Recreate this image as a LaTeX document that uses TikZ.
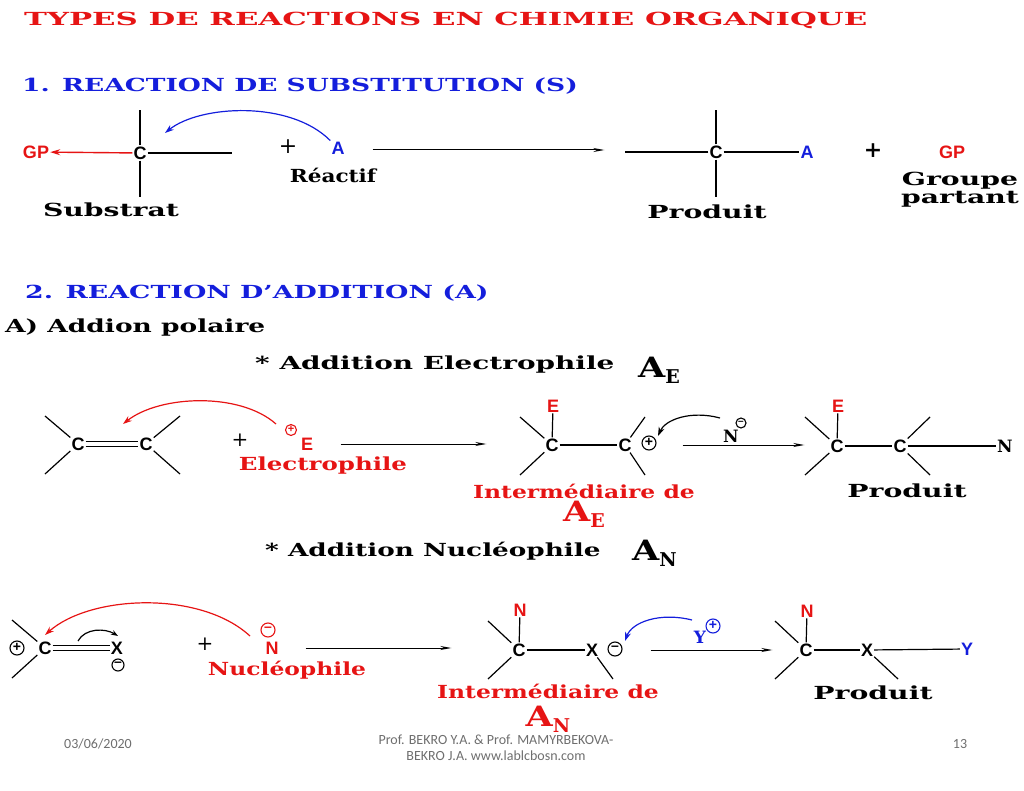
\documentclass[tikz,border=0pt]{standalone}
\usepackage{fontspec}
\setmainfont{DejaVu Serif}
\setsansfont{Liberation Sans}
\newfontfamily\footfont{Carlito}
\usetikzlibrary{positioning,arrows.meta}
\definecolor{rred}{RGB}{230,20,20}
\definecolor{bblue}{RGB}{20,30,220}
\definecolor{ftgray}{RGB}{110,110,110}
\newcommand{\widen}[2][1.55]{\scalebox{#1}[1]{#2}}
\tikzset{
  atom/.style={font=\sffamily\bfseries\fontsize{18}{18}\selectfont, inner sep=1pt},
  lab/.style={font=\bfseries\fontsize{18}{20}\selectfont, inner sep=0pt},
  head/.style={font=\bfseries\fontsize{18}{20}\selectfont, inner sep=0pt, anchor=west},
  bond/.style={line width=1.2pt},
  rx/.style={line width=1pt, -{Stealth[length=11pt,width=4pt]}},
  push/.style={line width=1.2pt, -{Stealth[length=9pt,width=6pt]}},
  chg/.style={circle, draw, line width=1.1pt, minimum size=14pt, inner sep=0pt,
    font=\sffamily\bfseries\fontsize{14}{14}\selectfont},
  foot/.style={font=\footfont\fontsize{14}{16}\selectfont, text=ftgray, align=center},
}
\newcommand{\pl}{\raisebox{0.5pt}{+}}
\newcommand{\mi}{\raisebox{0.5pt}{--}}
\begin{document}
\begin{tikzpicture}[x=1pt,y=-1pt]
\useasboundingbox (0,0) rectangle (1024,791);
% titles
\node[head,text=rred] (title) at (24,20) {\widen[1.71]{TYPES DE REACTIONS EN CHIMIE ORGANIQUE}};
\node[head,text=bblue] (sec1) at (22,86) {\widen[1.47]{1. REACTION DE SUBSTITUTION (S)}};
\node[head,text=bblue] (sec2) at (25,293) {\widen[1.49]{2. REACTION D'ADDITION (A)}};
\node[head] (polar) at (5,328) {\widen[1.47]{A) Addion polaire}};
\node[head] (ae-t) at (255,365) {\widen[1.55]{* Addition Electrophile}};
\node[font=\bfseries\fontsize{28}{28}\selectfont,anchor=west,inner sep=0pt] (ae-s) at (638,370) {\widen[1.25]{A}\raisebox{-6pt}{\fontsize{19}{19}\selectfont E}};
\node[head] (an-t) at (265,551) {\widen[1.46]{* Addition Nucléophile}};
\node[font=\bfseries\fontsize{28}{28}\selectfont,anchor=west,inner sep=0pt] (an-s) at (632,553) {\widen[1.25]{A}\raisebox{-6pt}{\fontsize{19}{19}\selectfont N}};

% 1. substitution
\node[atom] (sc) at (140,153) {C};
\node[atom,text=rred] (sgp) at (36,152) {GP};
\draw[bond] (sc) -- ++(0,-43);
\draw[bond] (sc) -- ++(0,44);
\draw[bond] (sc) -- ++(92,0);
\draw[rred,line width=1.4pt,-{Stealth[length=10pt,width=6pt]}] (sc) -- (sgp);
\node[lab] (subst) at (111,210) {\widen[1.57]{Substrat}};
\node[font=\fontsize{22}{22}\selectfont] (plus1) at (288,147) {+};
\node[atom,text=bblue] (sa) at (338,148) {A};
\node[lab] (reac) at (333,175) {\widen[1.2]{Réactif}};
\draw[push,bblue] (sa.north west) .. controls (290,100) and (200,105) .. (165,133);
\node[inner sep=0] (r1a) at (372,150) {};
\node[inner sep=0] (r1b) at (605,150) {};
\draw[rx] (r1a) -- (r1b);
\node[atom] (pc) at (716,152) {C};
\node[atom,text=bblue] (pa) at (807,152) {A};
\draw[bond] (pc) -- ++(-91,0);
\draw[bond] (pc) -- (pa);
\draw[bond] (pc) -- ++(0,-42);
\draw[bond] (pc) -- ++(0,45);
\node[lab] (prod1) at (707,212) {\widen[1.57]{Produit}};
\node[font=\bfseries\fontsize{22}{22}\selectfont] (plus2) at (873,151) {+};
\node[atom,text=rred] (pgp) at (952,152) {GP};
\node[lab,align=center] (gp-t) at (960,190) {\widen[1.57]{Groupe}\\[-2pt]\widen[1.57]{partant}};

% AE
\node[atom] (e1) at (78,444) {C};
\node[atom] (e2) at (146,444) {C};
\draw[bond] ([yshift=-2.5]e1.east) -- ([yshift=-2.5]e2.west);
\draw[bond] ([yshift=2.5]e1.east) -- ([yshift=2.5]e2.west);
\draw[bond] (e1) -- (45,416);
\draw[bond] (e1) -- (45,474);
\draw[bond] (e2) -- (180,416);
\draw[bond] (e2) -- (180,474);
\node[font=\fontsize{20}{20}\selectfont] (plus3) at (240,440) {+};
\node[chg,draw=rred,text=rred,minimum size=11pt,font=\sffamily\bfseries\fontsize{11}{11}\selectfont] (eplus) at (291,430) {\pl};
\node[atom,text=rred] (ee) at (307,444) {E};
\node[lab,text=rred] (elec) at (323,466) {\widen[1.36]{Electrophile}};
\draw[push,rred] (276,424) .. controls (240,392) and (160,395) .. (123,424);
\node[inner sep=0] (r2a) at (340,444) {};
\node[inner sep=0] (r2b) at (487,444) {};
\draw[rx] (r2a) -- (r2b);
% intermediate AE
\node[atom] (i1) at (552,445) {C};
\node[atom] (i2) at (625,445) {C};
\node[atom,text=rred] (ie) at (553,406) {E};
\node[chg] (iplus) at (649,443) {\pl};
\draw[bond] (i1) -- (i2);
\draw[bond] (i1) -- (ie);
\draw[bond] (i1) -- (520,417);
\draw[bond] (i1) -- (520,475);
\draw[bond] (i2) -- (645,417);
\draw[bond] (i2) -- (645,475);
\node[font=\bfseries\fontsize{17}{17}\selectfont,inner sep=0] (inn) at (731,436) {N};
\node[chg,minimum size=10pt,font=\sffamily\bfseries\fontsize{10}{10}\selectfont] (inm) at (741,423) {\mi};
\draw[push] (720,418) .. controls (690,410) and (665,420) .. (658,436);
\node[inner sep=0] (r3a) at (682,445) {};
\node[inner sep=0] (r3b) at (805,445) {};
\draw[rx] (r3a) -- (r3b);
\node[lab,text=rred] (int-ae) at (584,491) {\widen[1.3]{Intermédiaire de}};
\node[font=\bfseries\fontsize{28}{28}\selectfont,text=rred,inner sep=0] (int-aes) at (584,514) {\widen[1.25]{A}\raisebox{-6pt}{\fontsize{19}{19}\selectfont E}};
% product AE
\node[atom] (p1) at (837,446) {C};
\node[atom] (p2) at (900,446) {C};
\node[atom,text=rred] (pe) at (838,406) {E};
\node[font=\bfseries\fontsize{17}{17}\selectfont,inner sep=1pt] (pn) at (1005,446) {N};
\draw[bond] (p1) -- (p2);
\draw[bond] (p1) -- (pe);
\draw[bond] (p2) -- (pn);
\draw[bond] (p1) -- (805,417);
\draw[bond] (p1) -- (805,475);
\draw[bond] (p2) -- (930,417);
\draw[bond] (p2) -- (930,475);
\node[lab] (prod2) at (907,491) {\widen[1.57]{Produit}};

% AN
\node[chg] (nplus) at (17,648) {\pl};
\node[atom] (n1) at (45,648) {C};
\node[atom] (nx) at (117,648) {X};
\node[chg,minimum size=12pt] (nxm) at (118,665) {\mi};
\draw[bond] ([yshift=-2.5]n1.east) -- ([yshift=-2.5]nx.west);
\draw[bond] ([yshift=2.5]n1.east) -- ([yshift=2.5]nx.west);
\draw[bond] (n1) -- (12,620);
\draw[bond] (n1) -- (12,678);
\draw[line width=1.2pt,-{Stealth[length=7pt,width=5pt]}] (78,641) .. controls (85,628) and (105,628) .. (118,636);
\node[font=\fontsize{20}{20}\selectfont] (plus4) at (205,644) {+};
\node[chg,draw=rred,text=rred] (nm) at (268,630) {\mi};
\node[atom,text=rred] (nn) at (272,648) {N};
\node[lab,text=rred] (nuc) at (287,670) {\widen[1.3]{Nucléophile}};
\draw[push,rred] (250,636) .. controls (200,590) and (90,595) .. (45,635);
\node[inner sep=0] (r4a) at (305,648) {};
\node[inner sep=0] (r4b) at (452,648) {};
\draw[rx] (r4a) -- (r4b);
% intermediate AN
\node[atom] (j1) at (519,650) {C};
\node[atom] (jx) at (592,650) {X};
\node[atom,text=rred] (jn) at (520,610) {N};
\node[chg] (jm) at (615,649) {\mi};
\draw[bond] (j1) -- (jx);
\draw[bond] (j1) -- (jn);
\draw[bond] (j1) -- (488,621);
\draw[bond] (j1) -- (488,679);
\draw[bond] (jx) -- (613,679);
\node[font=\bfseries\fontsize{17}{17}\selectfont,text=bblue,inner sep=0] (jy) at (700,637) {Y};
\node[chg,draw=bblue,text=bblue] (jyp) at (713,626) {\pl};
\draw[push,bblue] (692,620) .. controls (660,612) and (632,622) .. (625,641);
\node[inner sep=0] (r5a) at (650,650) {};
\node[inner sep=0] (r5b) at (773,650) {};
\draw[rx] (r5a) -- (r5b);
\node[lab,text=rred] (int-an) at (548,691) {\widen[1.3]{Intermédiaire de}};
\node[font=\bfseries\fontsize{28}{28}\selectfont,text=rred,inner sep=0] (int-ans) at (548,719) {\widen[1.25]{A}\raisebox{-6pt}{\fontsize{19}{19}\selectfont N}};
% product AN
\node[atom] (q1) at (806,650) {C};
\node[atom] (qx) at (867,650) {X};
\node[atom,text=rred] (qn) at (807,611) {N};
\node[atom,text=bblue] (qy) at (967,649) {Y};
\draw[bond] (q1) -- (qx);
\draw[bond] (q1) -- (qn);
\draw[bond] (qx) -- (qy);
\draw[bond] (q1) -- (775,621);
\draw[bond] (q1) -- (775,679);
\draw[bond] (qx) -- (898,679);
\node[lab] (prod3) at (873,693) {\widen[1.57]{Produit}};

% footer
\node[foot] (date) at (98,744) {03/06/2020};
\node[foot] (auth) at (496,748) {Prof. BEKRO Y.A. \& Prof. MAMYRBEKOVA-\\BEKRO J.A. www.lablcbosn.com};
\node[foot] (page) at (960,744) {13};
\end{tikzpicture}
\end{document}
